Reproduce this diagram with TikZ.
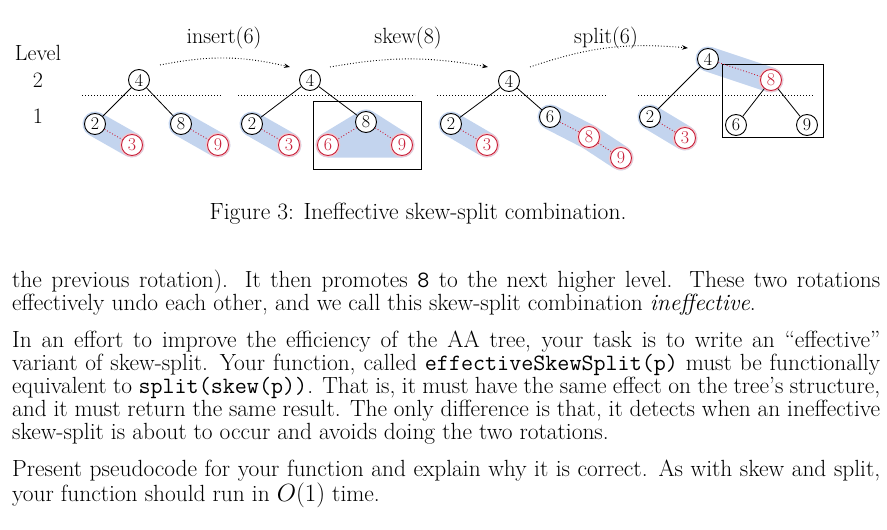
\documentclass[tikz,border=0pt]{standalone}
\usepackage{fontspec}
\usetikzlibrary{backgrounds,arrows.meta}
\definecolor{hl}{HTML}{C3D4EE}
\definecolor{rd}{HTML}{C8203A}
\begin{document}
\begin{tikzpicture}[x=1pt,y=-1pt,
  bn/.style={circle,draw,line width=0.9pt,fill=white,minimum size=21pt,inner sep=0pt,font=\fontsize{18}{18}\selectfont},
  rn/.style={bn,draw=rd,text=rd,preaction={draw=rd!25,line width=3.5pt}},
  ed/.style={line width=0.8pt},
  red/.style={draw=rd,dotted,line width=0.9pt},
  lvl/.style={dotted,line width=1pt},
  hlt/.style={draw=hl,line width=25pt,line cap=round,line join=round},
  op/.style={dotted,line width=0.9pt,-{Stealth[length=6pt]}},
  lab/.style={font=\fontsize{22}{22}\selectfont},
  bx/.style={draw,line width=1pt}]
\useasboundingbox (0,0) rectangle (887,530);
\node[lab] (L) at (38,53) {Level};
\node[lab] (L2) at (38,80) {2};
\node[lab] (L1) at (38,116) {1};
\draw[lvl] (82,95) -- (222,95);
\draw[lvl] (238,95) -- (415,95);
\draw[lvl] (437,95) -- (607,95);
\draw[lvl] (638,95) -- (814,95);
% tree 1
\node[bn] (a4) at (139,80) {4};
\node[bn] (a2) at (95,124) {2};
\node[rn] (a3) at (132,145) {3};
\node[bn] (a8) at (181,124) {8};
\node[rn] (a9) at (218,145) {9};
% tree 2
\node[bn] (b4) at (310,80) {4};
\node[bn] (b2) at (252,124) {2};
\node[rn] (b3) at (289,145) {3};
\node[bn] (b8) at (366,122) {8};
\node[rn] (b6) at (328,145) {6};
\node[rn] (b9) at (402,145) {9};
\coordinate (bA) at (313,101); \coordinate (bB) at (421,169);
\draw[bx] (bA) rectangle (bB);
% tree 3
\node[bn] (c4) at (509,81) {4};
\node[bn] (c2) at (451,124) {2};
\node[rn] (c3) at (487,145) {3};
\node[bn] (c6) at (550,117) {6};
\node[rn] (c8) at (589,137) {8};
\node[rn] (c9) at (621,158) {9};
% tree 4
\node[bn] (d4) at (708,59) {4};
\node[rn] (d8) at (771,80) {8};
\node[bn] (d2) at (650,117) {2};
\node[rn] (d3) at (685,138) {3};
\node[bn] (d6) at (736,125) {6};
\node[bn] (d9) at (807,125) {9};
\coordinate (dA) at (722,64); \coordinate (dB) at (823,137);
\draw[bx] (dA) rectangle (dB);
\begin{scope}[on background layer]
\draw[hlt] (a2.center) -- (a3.center);
\draw[hlt] (a8.center) -- (a9.center);
\draw[hlt] (b2.center) -- (b3.center);
\draw[hlt,fill=hl] (b6.center) -- (b8.center) -- (b9.center) -- cycle;
\draw[hlt] (c2.center) -- (c3.center);
\draw[hlt] (c6.center) -- (c8.center) -- (c9.center);
\draw[hlt] (d2.center) -- (d3.center);
\draw[hlt] (d4.center) -- (d8.center);
\end{scope}
\draw[ed] (a4) -- (a2); \draw[ed] (a4) -- (a8);
\draw[red] (a2) -- (a3); \draw[red] (a8) -- (a9);
\draw[ed] (b4) -- (b2); \draw[ed] (b4) -- (b8);
\draw[red] (b2) -- (b3); \draw[red] (b8) -- (b6); \draw[red] (b8) -- (b9);
\draw[ed] (c4) -- (c2); \draw[ed] (c4) -- (c6);
\draw[red] (c2) -- (c3); \draw[red] (c6) -- (c8); \draw[red] (c8) -- (c9);
\draw[ed] (d4) -- (d2); \draw[red] (d4) -- (d8);
\draw[red] (d2) -- (d3); \draw[ed] (d8) -- (d6); \draw[ed] (d8) -- (d9);
% operations
\node[lab] (o1) at (224,38) {insert(6)};
\node[lab] (o2) at (408,38) {skew(8)};
\node[lab] (o3) at (606,38) {split(6)};
\coordinate (p1) at (160,65); \coordinate (q1) at (290,67);
\coordinate (p2) at (330,67); \coordinate (q2) at (488,67);
\coordinate (p3) at (530,67); \coordinate (q3) at (688,48);
\draw[op] (p1) to[bend left=12] (q1);
\draw[op] (p2) to[bend left=10] (q2);
\draw[op] (p3) to[bend left=12] (q3);
\node[font=\fontsize{23.5}{23.5}\selectfont] (cap) at (418,214) {Figure 3: Ineffective skew-split combination.};
\node[anchor=north west,inner sep=0pt,text width=868pt,align=justify] (txt) at (12,270) {%
\fontsize{23.4}{23}\selectfont
\setlength{\parskip}{14pt}\setlength{\parindent}{0pt}%
the previous rotation). It then promotes \texttt{8} to the next higher level. These two rotations\linebreak effectively undo each other, and we call this skew-split combination \emph{ineffective}.\par
In an effort to improve the efficiency of the AA tree, your task is to write an ``effective''\linebreak variant of skew-split. Your function, called \texttt{effectiveSkewSplit(p)} must be functionally\linebreak equivalent to \texttt{split(skew(p))}. That is, it must have the same effect on the tree's structure,\linebreak and it must return the same result. The only difference is that, it detects when an ineffective\linebreak skew-split is about to occur and avoids doing the two rotations.\par
Present pseudocode for your function and explain why it is correct. As with skew and split,\linebreak your function should run in $O(1)$ time.\par}; 
\end{tikzpicture}
\end{document}
